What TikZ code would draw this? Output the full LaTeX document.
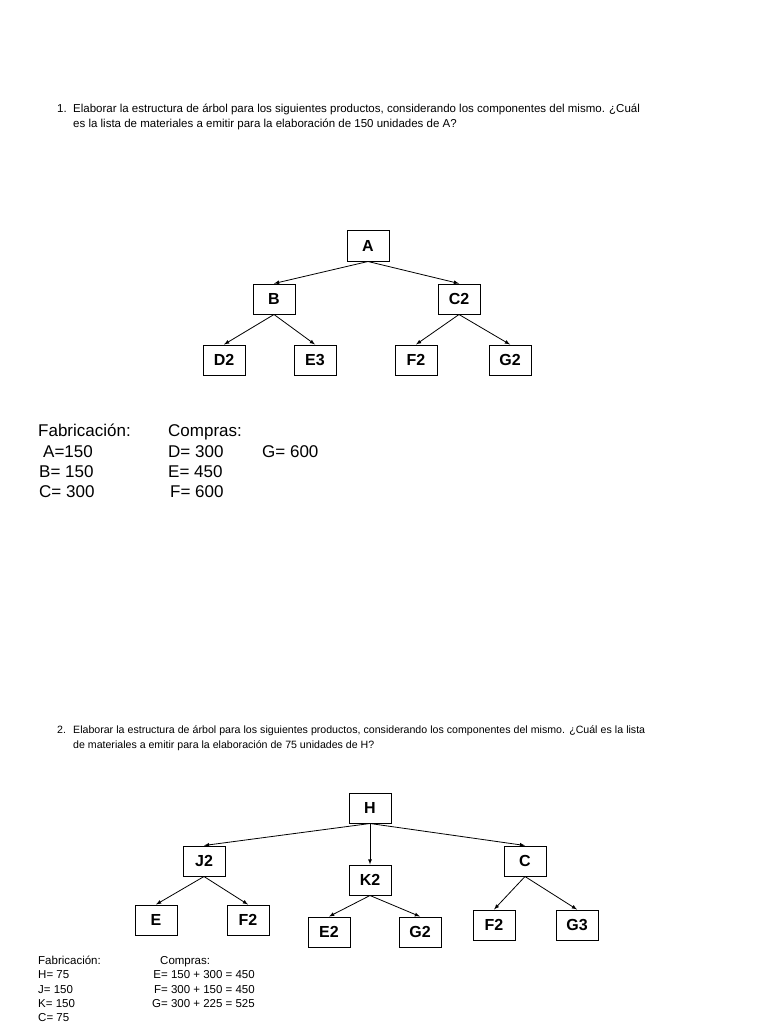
\documentclass[tikz,border=0pt]{standalone}
\usepackage{fontspec}
\setmainfont{Liberation Sans}
\usetikzlibrary{arrows}
\tikzset{arrow/.style={->, >=latex, line width=0.8pt}}
\tikzset{part/.style={draw, line width=1pt, minimum width=42pt, minimum height=30pt, inner sep=0pt, font=\fontsize{16}{19}\selectfont\bfseries}}
\tikzset{txt/.style={anchor=base west, inner sep=0pt}}
\newcommand{\headfont}{\fontsize{11.5}{14}\selectfont}
\newcommand{\headfontb}{\fontsize{10.6}{13}\selectfont}
\newcommand{\bigfont}{\fontsize{17}{20}\selectfont}
\newcommand{\smallfont}{\fontsize{11.5}{14}\selectfont}

\begin{document}
\begin{tikzpicture}[x=1pt, y=-1pt]
    \useasboundingbox[fill=white] (0, 0) rectangle (768, 1024);
    % exercise 1
    \node[txt, font=\headfont] (n1) at (57, 113) {1.};
    \node[txt, font=\headfont] (q1a) at (73, 113) {Elaborar la estructura de árbol para los siguientes productos, considerando los componentes del mismo. ¿Cuál};
    \node[txt, font=\headfont] (q1b) at (73, 128) {es la lista de materiales a emitir para la elaboración de 150 unidades de A?};

    \node[part] (A) at (368, 246) {A};
    \node[part] (B) at (274, 299) {B};
    \node[part] (C2) at (459, 299) {C2};
    \node[part] (D2) at (224, 360) {D2};
    \node[part] (E3) at (315, 360) {E3};
    \node[part] (F2) at (416, 360) {F2};
    \node[part] (G2) at (510, 360) {G2};
    \draw[arrow] (A.south) to (B.north);
    \draw[arrow] (A.south) to (C2.north);
    \draw[arrow] (B.south) to (D2.north);
    \draw[arrow] (B.south) to (E3.north);
    \draw[arrow] (C2.south) to (F2.north);
    \draw[arrow] (C2.south) to (G2.north);

    \node[txt, font=\bigfont] (fab1) at (38, 436) {Fabricación:};
    \node[txt, font=\bigfont] (fA) at (43, 457) {A=150};
    \node[txt, font=\bigfont] (fB) at (39, 477) {B= 150};
    \node[txt, font=\bigfont] (fC) at (39, 497) {C= 300};
    \node[txt, font=\bigfont] (com1) at (168, 436) {Compras:};
    \node[txt, font=\bigfont] (cD) at (168, 457) {D= 300};
    \node[txt, font=\bigfont] (cE) at (168, 477) {E= 450};
    \node[txt, font=\bigfont] (cF) at (170, 497) {F= 600};
    \node[txt, font=\bigfont] (cG) at (262, 457) {G= 600};

    % exercise 2
    \node[txt, font=\headfontb] (n2) at (57, 733) {2.};
    \node[txt, font=\headfontb] (q2a) at (73, 733) {\makebox[572pt][s]{Elaborar la estructura de árbol para los siguientes productos, considerando los componentes del mismo. ¿Cuál es la lista}};
    \node[txt, font=\headfontb] (q2b) at (73, 748) {de materiales a emitir para la elaboración de 75 unidades de H?};

    \node[part] (H) at (370, 808) {H};
    \node[part] (J2) at (204, 861) {J2};
    \node[part] (K2) at (370, 880) {K2};
    \node[part] (Cc) at (525, 861) {C};
    \node[part] (E) at (156, 920) {E};
    \node[part] (F2a) at (248, 920) {F2};
    \node[part] (E2) at (329, 932) {E2};
    \node[part] (G2b) at (420, 932) {G2};
    \node[part] (F2b) at (494, 925) {F2};
    \node[part] (G3) at (577, 925) {G3};
    \draw[arrow] (H.south) to (J2.north);
    \draw[arrow] (H.south) to (K2.north);
    \draw[arrow] (H.south) to (Cc.north);
    \draw[arrow] (J2.south) to (E.north);
    \draw[arrow] (J2.south) to (F2a.north);
    \draw[arrow] (K2.south) to (E2.north);
    \draw[arrow] (K2.south) to (G2b.north);
    \draw[arrow] (Cc.south) to (F2b.north);
    \draw[arrow] (Cc.south) to (G3.north);

    \node[txt, font=\smallfont] (fab2) at (38, 964) {Fabricación:};
    \node[txt, font=\smallfont] (fH) at (38, 978) {H= 75};
    \node[txt, font=\smallfont] (fJ) at (38, 993) {J= 150};
    \node[txt, font=\smallfont] (fK) at (38, 1007) {K= 150};
    \node[txt, font=\smallfont] (fCc) at (38, 1021) {C= 75};
    \node[txt, font=\smallfont] (com2) at (160, 964) {Compras:};
    \node[txt, font=\smallfont, anchor=base east] (cE2) at (255, 978) {E= 150 + 300 = 450};
    \node[txt, font=\smallfont, anchor=base east] (cF2) at (255, 993) {F= 300 + 150 = 450};
    \node[txt, font=\smallfont, anchor=base east] (cG2) at (255, 1007) {G= 300 + 225 = 525};
\end{tikzpicture}
\end{document}
